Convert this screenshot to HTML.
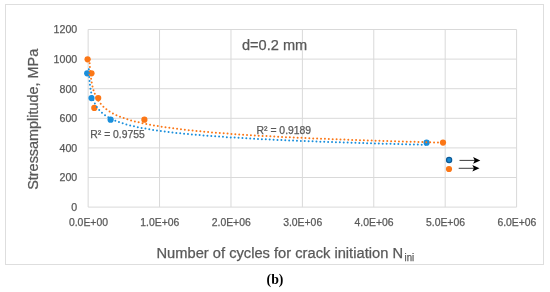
<!DOCTYPE html>
<html><head><meta charset="utf-8"><title>Chart</title>
<style>
html,body{margin:0;padding:0;background:#fff;}
body{width:550px;height:292px;overflow:hidden;}
svg{display:block;}
text{font-family:"Liberation Sans",Arial,sans-serif;fill:#595959;stroke:#595959;stroke-width:0.25px;}
.tk{font-size:10.6px;}
.tx{font-size:10.4px;}
.rl{font-size:10.6px;}
.dl{font-size:14.3px;}
.at{font-size:14px;}
.sub{font-size:10.2px;}
.cap{font-family:"Liberation Serif","Times New Roman",serif;font-weight:bold;font-size:13.8px;fill:#000;stroke:none;}
</style></head>
<body>
<svg width="550" height="292" viewBox="0 0 550 292">
<rect x="5.5" y="4.5" width="538" height="260" fill="#fff" stroke="#dedede" stroke-width="1"/>
<line x1="88.15" y1="207.1" x2="516.6" y2="207.1" stroke="#d9d9d9" stroke-width="1"/>
<line x1="88.15" y1="177.5" x2="516.6" y2="177.5" stroke="#d9d9d9" stroke-width="1"/>
<line x1="88.15" y1="147.9" x2="516.6" y2="147.9" stroke="#d9d9d9" stroke-width="1"/>
<line x1="88.15" y1="118.3" x2="516.6" y2="118.3" stroke="#d9d9d9" stroke-width="1"/>
<line x1="88.15" y1="88.7" x2="516.6" y2="88.7" stroke="#d9d9d9" stroke-width="1"/>
<line x1="88.15" y1="59.099999999999994" x2="516.6" y2="59.099999999999994" stroke="#d9d9d9" stroke-width="1"/>
<line x1="88.15" y1="29.5" x2="516.6" y2="29.5" stroke="#d9d9d9" stroke-width="1"/>
<line x1="88.15" y1="29.5" x2="88.15" y2="207.1" stroke="#d9d9d9" stroke-width="1"/>
<line x1="159.56" y1="29.5" x2="159.56" y2="207.1" stroke="#d9d9d9" stroke-width="1"/>
<line x1="230.97" y1="29.5" x2="230.97" y2="207.1" stroke="#d9d9d9" stroke-width="1"/>
<line x1="302.38" y1="29.5" x2="302.38" y2="207.1" stroke="#d9d9d9" stroke-width="1"/>
<line x1="373.78" y1="29.5" x2="373.78" y2="207.1" stroke="#d9d9d9" stroke-width="1"/>
<line x1="445.19" y1="29.5" x2="445.19" y2="207.1" stroke="#d9d9d9" stroke-width="1"/>
<line x1="516.60" y1="29.5" x2="516.60" y2="207.1" stroke="#d9d9d9" stroke-width="1"/>
<text x="77.2" y="210.9" text-anchor="end" class="tk">0</text>
<text x="77.2" y="181.3" text-anchor="end" class="tk">200</text>
<text x="77.2" y="151.7" text-anchor="end" class="tk">400</text>
<text x="77.2" y="122.1" text-anchor="end" class="tk">600</text>
<text x="77.2" y="92.5" text-anchor="end" class="tk">800</text>
<text x="77.2" y="62.9" text-anchor="end" class="tk">1000</text>
<text x="77.2" y="33.3" text-anchor="end" class="tk">1200</text>
<text x="88.45" y="225.8" text-anchor="middle" class="tx">0.0E+00</text>
<text x="159.86" y="225.8" text-anchor="middle" class="tx">1.0E+06</text>
<text x="231.27" y="225.8" text-anchor="middle" class="tx">2.0E+06</text>
<text x="302.68" y="225.8" text-anchor="middle" class="tx">3.0E+06</text>
<text x="374.08" y="225.8" text-anchor="middle" class="tx">4.0E+06</text>
<text x="445.49" y="225.8" text-anchor="middle" class="tx">5.0E+06</text>
<text x="516.90" y="225.8" text-anchor="middle" class="tx">6.0E+06</text>
<circle cx="87.2" cy="73.3" r="3.1" fill="#1a8fdc"/>
<circle cx="91.5" cy="98.1" r="3.1" fill="#1a8fdc"/>
<circle cx="110.6" cy="119.7" r="3.1" fill="#1a8fdc"/>
<circle cx="426.6" cy="142.7" r="3.1" fill="#1a8fdc"/>
<circle cx="87.6" cy="59.3" r="3.1" fill="#fb7717"/>
<circle cx="91.5" cy="73.3" r="3.1" fill="#fb7717"/>
<circle cx="98.2" cy="98.1" r="3.1" fill="#fb7717"/>
<circle cx="94.3" cy="107.9" r="3.1" fill="#fb7717"/>
<circle cx="144.4" cy="119.7" r="3.1" fill="#fb7717"/>
<circle cx="443.0" cy="142.6" r="3.1" fill="#fb7717"/>
<circle cx="449.1" cy="160.0" r="2.6" fill="#1789d2" stroke="#0d5a96" stroke-width="1.2"/>
<circle cx="449.0" cy="169.0" r="3.1" fill="#fb7717"/>
<path d="M88.81,69.21 L88.82,69.49 L88.83,69.76 L88.85,70.03 L88.86,70.31 L88.87,70.58 L88.88,70.85 L88.90,71.12 L88.91,71.39 L88.92,71.66 L88.93,71.93 L88.95,72.20 L88.96,72.47 L88.98,72.74 L88.99,73.01 L89.01,73.27 L89.02,73.54 L89.03,73.80 L89.05,74.07 L89.07,74.33 L89.08,74.60 L89.10,74.86 L89.11,75.13 L89.13,75.39 L89.15,75.65 L89.16,75.91 L89.18,76.17 L89.20,76.43 L89.21,76.69 L89.23,76.95 L89.25,77.21 L89.27,77.47 L89.29,77.73 L89.31,77.99 L89.33,78.24 L89.35,78.50 L89.37,78.76 L89.39,79.01 L89.41,79.27 L89.43,79.52 L89.45,79.78 L89.47,80.03 L89.49,80.28 L89.51,80.53 L89.54,80.79 L89.56,81.04 L89.58,81.29 L89.61,81.54 L89.63,81.79 L89.65,82.04 L89.68,82.29 L89.70,82.54 L89.73,82.78 L89.75,83.03 L89.78,83.28 L89.81,83.52 L89.83,83.77 L89.86,84.02 L89.89,84.26 L89.92,84.51 L89.95,84.75 L89.98,84.99 L90.01,85.24 L90.04,85.48 L90.07,85.72 L90.10,85.96 L90.13,86.20 L90.16,86.44 L90.19,86.68 L90.23,86.92 L90.26,87.16 L90.29,87.40 L90.33,87.64 L90.36,87.88 L90.40,88.12 L90.44,88.35 L90.47,88.59 L90.51,88.82 L90.55,89.06 L90.59,89.29 L90.62,89.53 L90.66,89.76 L90.70,90.00 L90.75,90.23 L90.79,90.46 L90.83,90.69 L90.87,90.93 L90.92,91.16 L90.96,91.39 L91.00,91.62 L91.05,91.85 L91.10,92.08 L91.14,92.31 L91.19,92.53 L91.24,92.76 L91.29,92.99 L91.34,93.22 L91.39,93.44 L91.44,93.67 L91.49,93.90 L91.55,94.12 L91.60,94.35 L91.65,94.57 L91.71,94.79 L91.77,95.02 L91.82,95.24 L91.88,95.46 L91.94,95.69 L92.00,95.91 L92.06,96.13 L92.12,96.35 L92.18,96.57 L92.25,96.79 L92.31,97.01 L92.38,97.23 L92.45,97.45 L92.51,97.66 L92.58,97.88 L92.65,98.10 L92.72,98.32 L92.79,98.53 L92.87,98.75 L92.94,98.96 L93.02,99.18 L93.09,99.39 L93.17,99.61 L93.25,99.82 L93.33,100.04 L93.41,100.25 L93.49,100.46 L93.58,100.67 L93.66,100.89 L93.75,101.10 L93.84,101.31 L93.93,101.52 L94.02,101.73 L94.11,101.94 L94.20,102.15 L94.30,102.36 L94.39,102.56 L94.49,102.77 L94.59,102.98 L94.69,103.19 L94.79,103.39 L94.90,103.60 L95.00,103.81 L95.11,104.01 L95.22,104.22 L95.33,104.42 L95.44,104.63 L95.56,104.83 L95.67,105.03 L95.79,105.24 L95.91,105.44 L96.03,105.64 L96.15,105.84 L96.28,106.04 L96.40,106.25 L96.53,106.45 L96.66,106.65 L96.80,106.85 L96.93,107.05 L97.07,107.24 L97.21,107.44 L97.35,107.64 L97.49,107.84 L97.64,108.04 L97.78,108.23 L97.93,108.43 L98.09,108.63 L98.24,108.82 L98.40,109.02 L98.56,109.21 L98.72,109.41 L98.88,109.60 L99.05,109.80 L99.22,109.99 L99.39,110.18 L99.57,110.38 L99.75,110.57 L99.93,110.76 L100.11,110.95 L100.29,111.14 L100.48,111.33 L100.67,111.52 L100.87,111.71 L101.07,111.90 L101.27,112.09 L101.47,112.28 L101.68,112.47 L101.89,112.66 L102.10,112.85 L102.32,113.03 L102.54,113.22 L102.76,113.41 L102.99,113.59 L103.22,113.78 L103.45,113.97 L103.69,114.15 L103.93,114.34 L104.17,114.52 L104.42,114.70 L104.68,114.89 L104.93,115.07 L105.19,115.25 L105.46,115.44 L105.72,115.62 L106.00,115.80 L106.27,115.98 L106.55,116.16 L106.84,116.35 L107.13,116.53 L107.42,116.71 L107.72,116.89 L108.03,117.06 L108.33,117.24 L108.65,117.42 L108.96,117.60 L109.29,117.78 L109.61,117.96 L109.95,118.13 L110.28,118.31 L110.63,118.49 L110.97,118.66 L111.33,118.84 L111.69,119.01 L112.05,119.19 L112.42,119.36 L112.80,119.54 L113.18,119.71 L113.56,119.89 L113.96,120.06 L114.36,120.23 L114.76,120.41 L115.17,120.58 L115.59,120.75 L116.02,120.92 L116.45,121.09 L116.89,121.26 L117.33,121.44 L117.78,121.61 L118.24,121.78 L118.71,121.95 L119.18,122.11 L119.66,122.28 L120.15,122.45 L120.64,122.62 L121.14,122.79 L121.65,122.96 L122.17,123.12 L122.70,123.29 L123.23,123.46 L123.77,123.62 L124.32,123.79 L124.88,123.95 L125.45,124.12 L126.03,124.29 L126.61,124.45 L127.21,124.61 L127.81,124.78 L128.42,124.94 L129.05,125.10 L129.68,125.27 L130.32,125.43 L130.97,125.59 L131.63,125.76 L132.30,125.92 L132.99,126.08 L133.68,126.24 L134.38,126.40 L135.10,126.56 L135.82,126.72 L136.56,126.88 L137.31,127.04 L138.07,127.20 L138.84,127.36 L139.62,127.52 L140.41,127.67 L141.22,127.83 L142.04,127.99 L142.87,128.15 L143.72,128.30 L144.58,128.46 L145.45,128.62 L146.33,128.77 L147.23,128.93 L148.14,129.08 L149.07,129.24 L150.01,129.39 L150.97,129.55 L151.94,129.70 L152.92,129.86 L153.92,130.01 L154.94,130.16 L155.97,130.32 L157.02,130.47 L158.08,130.62 L159.16,130.77 L160.25,130.92 L161.37,131.08 L162.50,131.23 L163.65,131.38 L164.81,131.53 L165.99,131.68 L167.20,131.83 L168.42,131.98 L169.65,132.13 L170.91,132.28 L172.19,132.42 L173.49,132.57 L174.80,132.72 L176.14,132.87 L177.50,133.02 L178.88,133.16 L180.28,133.31 L181.70,133.46 L183.14,133.60 L184.61,133.75 L186.10,133.90 L187.61,134.04 L189.15,134.19 L190.70,134.33 L192.29,134.48 L193.89,134.62 L195.53,134.76 L197.18,134.91 L198.86,135.05 L200.57,135.19 L202.31,135.34 L204.07,135.48 L205.86,135.62 L207.67,135.76 L209.52,135.91 L211.39,136.05 L213.29,136.19 L215.22,136.33 L217.18,136.47 L219.17,136.61 L221.20,136.75 L223.25,136.89 L225.33,137.03 L227.45,137.17 L229.60,137.31 L231.78,137.45 L234.00,137.58 L236.25,137.72 L238.53,137.86 L240.85,138.00 L243.21,138.14 L245.60,138.27 L248.03,138.41 L250.49,138.55 L253.00,138.68 L255.54,138.82 L258.12,138.95 L260.74,139.09 L263.41,139.22 L266.11,139.36 L268.85,139.49 L271.64,139.63 L274.47,139.76 L277.35,139.90 L280.26,140.03 L283.23,140.16 L286.24,140.29 L289.29,140.43 L292.39,140.56 L295.54,140.69 L298.74,140.82 L301.99,140.96 L305.29,141.09 L308.64,141.22 L312.04,141.35 L315.49,141.48 L319.00,141.61 L322.56,141.74 L326.17,141.87 L329.85,142.00 L333.57,142.13 L337.36,142.26 L341.20,142.39 L345.11,142.51 L349.07,142.64 L353.09,142.77 L357.18,142.90 L361.33,143.03 L365.54,143.15 L369.82,143.28 L374.16,143.41 L378.57,143.53 L383.05,143.66 L387.60,143.79 L392.22,143.91 L396.91,144.04 L401.67,144.16 L406.50,144.29 L411.41,144.41 L416.40,144.54 L421.46,144.66 L426.60,144.78" fill="none" stroke="#1a8fdc" stroke-width="2" stroke-linecap="round" stroke-dasharray="0 3.9"/>
<path d="M89.45,59.30 L89.46,59.61 L89.48,59.91 L89.49,60.22 L89.51,60.52 L89.52,60.83 L89.54,61.13 L89.55,61.44 L89.57,61.74 L89.58,62.04 L89.60,62.34 L89.62,62.64 L89.63,62.94 L89.65,63.24 L89.67,63.54 L89.68,63.84 L89.70,64.14 L89.72,64.44 L89.74,64.73 L89.76,65.03 L89.77,65.32 L89.79,65.62 L89.81,65.91 L89.83,66.21 L89.85,66.50 L89.87,66.79 L89.89,67.08 L89.91,67.37 L89.93,67.66 L89.96,67.95 L89.98,68.24 L90.00,68.53 L90.02,68.82 L90.04,69.11 L90.07,69.39 L90.09,69.68 L90.11,69.97 L90.14,70.25 L90.16,70.54 L90.19,70.82 L90.21,71.10 L90.24,71.39 L90.26,71.67 L90.29,71.95 L90.32,72.23 L90.34,72.51 L90.37,72.79 L90.40,73.07 L90.43,73.35 L90.46,73.63 L90.49,73.90 L90.51,74.18 L90.54,74.46 L90.58,74.73 L90.61,75.01 L90.64,75.28 L90.67,75.56 L90.70,75.83 L90.73,76.10 L90.77,76.38 L90.80,76.65 L90.84,76.92 L90.87,77.19 L90.91,77.46 L90.94,77.73 L90.98,78.00 L91.02,78.27 L91.05,78.53 L91.09,78.80 L91.13,79.07 L91.17,79.33 L91.21,79.60 L91.25,79.86 L91.29,80.13 L91.33,80.39 L91.37,80.66 L91.42,80.92 L91.46,81.18 L91.50,81.44 L91.55,81.70 L91.60,81.96 L91.64,82.22 L91.69,82.48 L91.74,82.74 L91.78,83.00 L91.83,83.26 L91.88,83.52 L91.93,83.77 L91.98,84.03 L92.04,84.29 L92.09,84.54 L92.14,84.80 L92.20,85.05 L92.25,85.30 L92.31,85.56 L92.37,85.81 L92.42,86.06 L92.48,86.31 L92.54,86.56 L92.60,86.81 L92.66,87.06 L92.73,87.31 L92.79,87.56 L92.85,87.81 L92.92,88.06 L92.98,88.31 L93.05,88.55 L93.12,88.80 L93.19,89.04 L93.26,89.29 L93.33,89.54 L93.40,89.78 L93.47,90.02 L93.55,90.27 L93.62,90.51 L93.70,90.75 L93.78,90.99 L93.86,91.23 L93.94,91.48 L94.02,91.72 L94.10,91.96 L94.19,92.19 L94.27,92.43 L94.36,92.67 L94.44,92.91 L94.53,93.15 L94.62,93.38 L94.71,93.62 L94.81,93.86 L94.90,94.09 L95.00,94.33 L95.09,94.56 L95.19,94.79 L95.29,95.03 L95.40,95.26 L95.50,95.49 L95.60,95.72 L95.71,95.96 L95.82,96.19 L95.93,96.42 L96.04,96.65 L96.15,96.88 L96.27,97.11 L96.38,97.33 L96.50,97.56 L96.62,97.79 L96.74,98.02 L96.86,98.24 L96.99,98.47 L97.12,98.70 L97.24,98.92 L97.38,99.15 L97.51,99.37 L97.64,99.59 L97.78,99.82 L97.92,100.04 L98.06,100.26 L98.20,100.48 L98.35,100.71 L98.50,100.93 L98.65,101.15 L98.80,101.37 L98.95,101.59 L99.11,101.81 L99.27,102.02 L99.43,102.24 L99.59,102.46 L99.76,102.68 L99.93,102.90 L100.10,103.11 L100.27,103.33 L100.45,103.54 L100.63,103.76 L100.81,103.97 L100.99,104.19 L101.18,104.40 L101.37,104.61 L101.56,104.83 L101.76,105.04 L101.95,105.25 L102.16,105.46 L102.36,105.67 L102.57,105.88 L102.78,106.10 L102.99,106.30 L103.21,106.51 L103.43,106.72 L103.65,106.93 L103.88,107.14 L104.11,107.35 L104.34,107.55 L104.58,107.76 L104.82,107.97 L105.07,108.17 L105.31,108.38 L105.57,108.58 L105.82,108.79 L106.08,108.99 L106.34,109.20 L106.61,109.40 L106.88,109.60 L107.16,109.81 L107.44,110.01 L107.72,110.21 L108.01,110.41 L108.30,110.61 L108.60,110.81 L108.90,111.01 L109.20,111.21 L109.51,111.41 L109.83,111.61 L110.15,111.81 L110.47,112.01 L110.80,112.20 L111.14,112.40 L111.47,112.60 L111.82,112.79 L112.17,112.99 L112.52,113.18 L112.88,113.38 L113.25,113.57 L113.62,113.77 L113.99,113.96 L114.38,114.16 L114.76,114.35 L115.16,114.54 L115.56,114.73 L115.96,114.92 L116.37,115.12 L116.79,115.31 L117.21,115.50 L117.64,115.69 L118.08,115.88 L118.52,116.07 L118.97,116.26 L119.43,116.44 L119.89,116.63 L120.36,116.82 L120.84,117.01 L121.33,117.20 L121.82,117.38 L122.32,117.57 L122.82,117.75 L123.34,117.94 L123.86,118.12 L124.39,118.31 L124.93,118.49 L125.47,118.68 L126.03,118.86 L126.59,119.04 L127.16,119.23 L127.74,119.41 L128.33,119.59 L128.92,119.77 L129.53,119.96 L130.14,120.14 L130.77,120.32 L131.40,120.50 L132.04,120.68 L132.69,120.86 L133.36,121.03 L134.03,121.21 L134.71,121.39 L135.40,121.57 L136.11,121.75 L136.82,121.92 L137.54,122.10 L138.28,122.28 L139.02,122.45 L139.78,122.63 L140.55,122.81 L141.33,122.98 L142.12,123.15 L142.92,123.33 L143.74,123.50 L144.57,123.68 L145.41,123.85 L146.26,124.02 L147.12,124.19 L148.00,124.37 L148.89,124.54 L149.80,124.71 L150.72,124.88 L151.65,125.05 L152.59,125.22 L153.56,125.39 L154.53,125.56 L155.52,125.73 L156.52,125.90 L157.54,126.07 L158.58,126.24 L159.63,126.40 L160.69,126.57 L161.77,126.74 L162.87,126.91 L163.99,127.07 L165.12,127.24 L166.27,127.40 L167.43,127.57 L168.61,127.73 L169.81,127.90 L171.03,128.06 L172.27,128.23 L173.52,128.39 L174.80,128.55 L176.09,128.72 L177.40,128.88 L178.73,129.04 L180.09,129.20 L181.46,129.37 L182.85,129.53 L184.27,129.69 L185.70,129.85 L187.16,130.01 L188.63,130.17 L190.13,130.33 L191.66,130.49 L193.20,130.65 L194.77,130.81 L196.36,130.96 L197.98,131.12 L199.62,131.28 L201.29,131.44 L202.98,131.59 L204.69,131.75 L206.43,131.91 L208.20,132.06 L209.99,132.22 L211.81,132.37 L213.66,132.53 L215.54,132.68 L217.44,132.84 L219.37,132.99 L221.33,133.15 L223.32,133.30 L225.34,133.45 L227.39,133.61 L229.47,133.76 L231.59,133.91 L233.73,134.06 L235.91,134.21 L238.12,134.37 L240.36,134.52 L242.63,134.67 L244.94,134.82 L247.29,134.97 L249.67,135.12 L252.08,135.27 L254.53,135.42 L257.02,135.56 L259.54,135.71 L262.11,135.86 L264.71,136.01 L267.35,136.16 L270.03,136.30 L272.75,136.45 L275.51,136.60 L278.31,136.74 L281.16,136.89 L284.04,137.03 L286.97,137.18 L289.95,137.32 L292.97,137.47 L296.03,137.61 L299.14,137.76 L302.30,137.90 L305.50,138.05 L308.75,138.19 L312.05,138.33 L315.40,138.47 L318.80,138.62 L322.25,138.76 L325.75,138.90 L329.31,139.04 L332.92,139.18 L336.58,139.32 L340.30,139.46 L344.07,139.60 L347.90,139.74 L351.79,139.88 L355.73,140.02 L359.74,140.16 L363.80,140.30 L367.93,140.44 L372.11,140.58 L376.36,140.72 L380.68,140.85 L385.05,140.99 L389.50,141.13 L394.01,141.27 L398.59,141.40 L403.23,141.54 L407.95,141.67 L412.73,141.81 L417.59,141.94 L422.52,142.08 L427.53,142.21 L432.61,142.35 L437.77,142.48 L443.00,142.62" fill="none" stroke="#fb7717" stroke-width="2" stroke-linecap="round" stroke-dasharray="0 3.9"/>
<line x1="459.5" y1="160.4" x2="475.20000000000005" y2="160.4" stroke="#333" stroke-width="0.95"/><path d="M480.3,160.4 L473.1,157.1 L474.70000000000005,160.4 L473.1,163.70000000000002 Z" fill="#000"/>
<line x1="458.7" y1="168.3" x2="474.40000000000003" y2="168.3" stroke="#333" stroke-width="0.95"/><path d="M479.5,168.3 L472.3,165.0 L473.90000000000003,168.3 L472.3,171.60000000000002 Z" fill="#000"/>
<text x="90.3" y="137.6" class="rl" textLength="54.5" lengthAdjust="spacingAndGlyphs">R² = 0.9755</text>
<text x="256.6" y="133.8" class="rl" textLength="54.5" lengthAdjust="spacingAndGlyphs">R² = 0.9189</text>
<text x="242.0" y="49.6" class="dl" textLength="65.2" lengthAdjust="spacingAndGlyphs">d=0.2 mm</text>
<text transform="translate(38.1 119.3) rotate(-90)" text-anchor="middle" class="at" textLength="141" lengthAdjust="spacingAndGlyphs">Stressamplitude, MPa</text>
<text x="156.5" y="258.2" class="at"><tspan textLength="246.5" lengthAdjust="spacingAndGlyphs">Number of cycles for crack initiation N</tspan><tspan x="404.5" y="261.0" class="sub" textLength="9.6" lengthAdjust="spacingAndGlyphs">ini</tspan></text>
<text x="275" y="283.5" text-anchor="middle" class="cap">(b)</text>
</svg>
</body></html>
